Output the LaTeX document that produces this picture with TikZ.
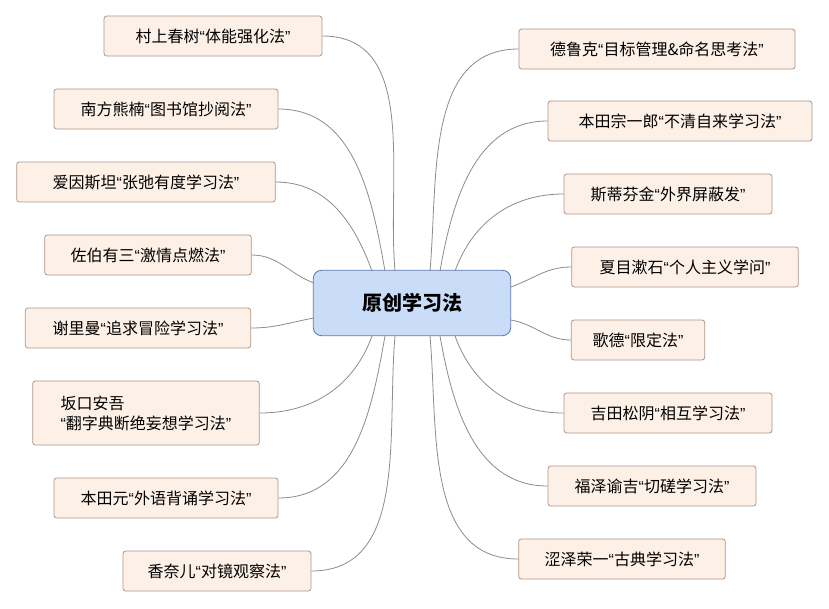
\documentclass[tikz,border=0pt]{standalone}
\usepackage{fontspec}
\setmainfont{Noto Sans CJK SC}
\newfontfamily\latq{Liberation Sans}
\newcommand{\oq}{{\latq “}}
\newcommand{\cq}{{\latq ”}}
\begin{document}
\begin{tikzpicture}[x=0.75pt,y=-0.75pt,
  box/.style={draw=boxborder,fill=boxfill,rounded corners=2pt,minimum height=30pt,inner sep=2pt,font=\fontsize{12}{15}\selectfont,line width=0.6pt},
  link/.style={draw=linkgray,line width=0.6pt}]
\definecolor{boxfill}{HTML}{FDF1E7}
\definecolor{boxborder}{HTML}{B0968A}
\definecolor{linkgray}{HTML}{8C8C8C}
\definecolor{cfill}{HTML}{C9DCF8}
\definecolor{cborder}{HTML}{5A78AE}
\useasboundingbox[fill=white] (0,0) rectangle (829,608);
\node[draw=cborder,fill=cfill,rounded corners=6pt,minimum width=148pt,minimum height=49pt,font=\fontsize{15}{18}\selectfont\bfseries,line width=0.6pt] (c) at (412,303) {原创学习法};
\node[box,minimum width=163.5pt] (l1) at (213,36) {村上春树\oq 体能强化法\cq};
\node[box,minimum width=168pt] (l2) at (166,109) {南方熊楠\oq 图书馆抄阅法\cq};
\node[box,minimum width=194pt] (l3) at (146,182) {爱因斯坦\oq 张弛有度学习法\cq};
\node[box,minimum width=155pt] (l4) at (148,255) {佐伯有三\oq 激情点燃法\cq};
\node[box,minimum width=169pt] (l5) at (138,328) {谢里曼\oq 追求冒险学习法\cq};
\node[box,minimum width=170pt,minimum height=48pt,align=left] (l6) at (146,413) {坂口安吾\\\oq 翻字典断绝妄想学习法\cq};
\node[box,minimum width=168pt] (l7) at (166,498) {本田元\oq 外语背诵学习法\cq};
\node[box,minimum width=141pt] (l8) at (217,571) {香奈儿\oq 对镜观察法\cq};
\node[box,minimum width=207pt] (r1) at (657,49) {德鲁克\oq 目标管理\&命名思考法\cq};
\node[box,minimum width=198pt] (r2) at (680,121) {本田宗一郎\oq 不清自来学习法\cq};
\node[box,minimum width=156pt] (r3) at (668,194) {斯蒂芬金\oq 外界屏蔽发\cq};
\node[box,minimum width=170pt] (r4) at (685,267) {夏目漱石\oq 个人主义学问\cq};
\node[box,minimum width=100pt] (r5) at (638,340) {歌德\oq 限定法\cq};
\node[box,minimum width=156pt] (r6) at (668,413) {吉田松阴\oq 相互学习法\cq};
\node[box,minimum width=156pt] (r7) at (652,486) {福泽谕吉\oq 切磋学习法\cq};
\node[box,minimum width=155pt] (r8) at (622,559) {涩泽荣一\oq 古典学习法\cq};
\coordinate (a1) at (395,271); \coordinate (a2) at (385,271); \coordinate (a3) at (372,271);
\coordinate (a4) at (314,283); \coordinate (a5) at (314,318);
\coordinate (a6) at (372,336); \coordinate (a7) at (385,336); \coordinate (a8) at (395,336);
\coordinate (b1) at (430,271); \coordinate (b2) at (440,271); \coordinate (b3) at (455,271);
\coordinate (b4) at (511,287); \coordinate (b5) at (511,320);
\coordinate (b6) at (455,336); \coordinate (b7) at (440,336); \coordinate (b8) at (430,336);
\path[link] (a1) to[out=95,in=0] (l1.east);
\path[link] (a2) to[out=100,in=0] (l2.east);
\path[link] (a3) to[out=110,in=0] (l3.east);
\path[link] (a4) to[out=160,in=0] (l4.east);
\path[link] (a5) to[out=190,in=0] (l5.east);
\path[link] (a6) to[out=250,in=0] (l6.east);
\path[link] (a7) to[out=260,in=0] (l7.east);
\path[link] (a8) to[out=265,in=0] (l8.east);
\path[link] (b1) to[out=85,in=180] (r1.west);
\path[link] (b2) to[out=80,in=180] (r2.west);
\path[link] (b3) to[out=70,in=180] (r3.west);
\path[link] (b4) to[out=20,in=180] (r4.west);
\path[link] (b5) to[out=-10,in=180] (r5.west);
\path[link] (b6) to[out=290,in=180] (r6.west);
\path[link] (b7) to[out=280,in=180] (r7.west);
\path[link] (b8) to[out=275,in=180] (r8.west);
\end{tikzpicture}
\end{document}
